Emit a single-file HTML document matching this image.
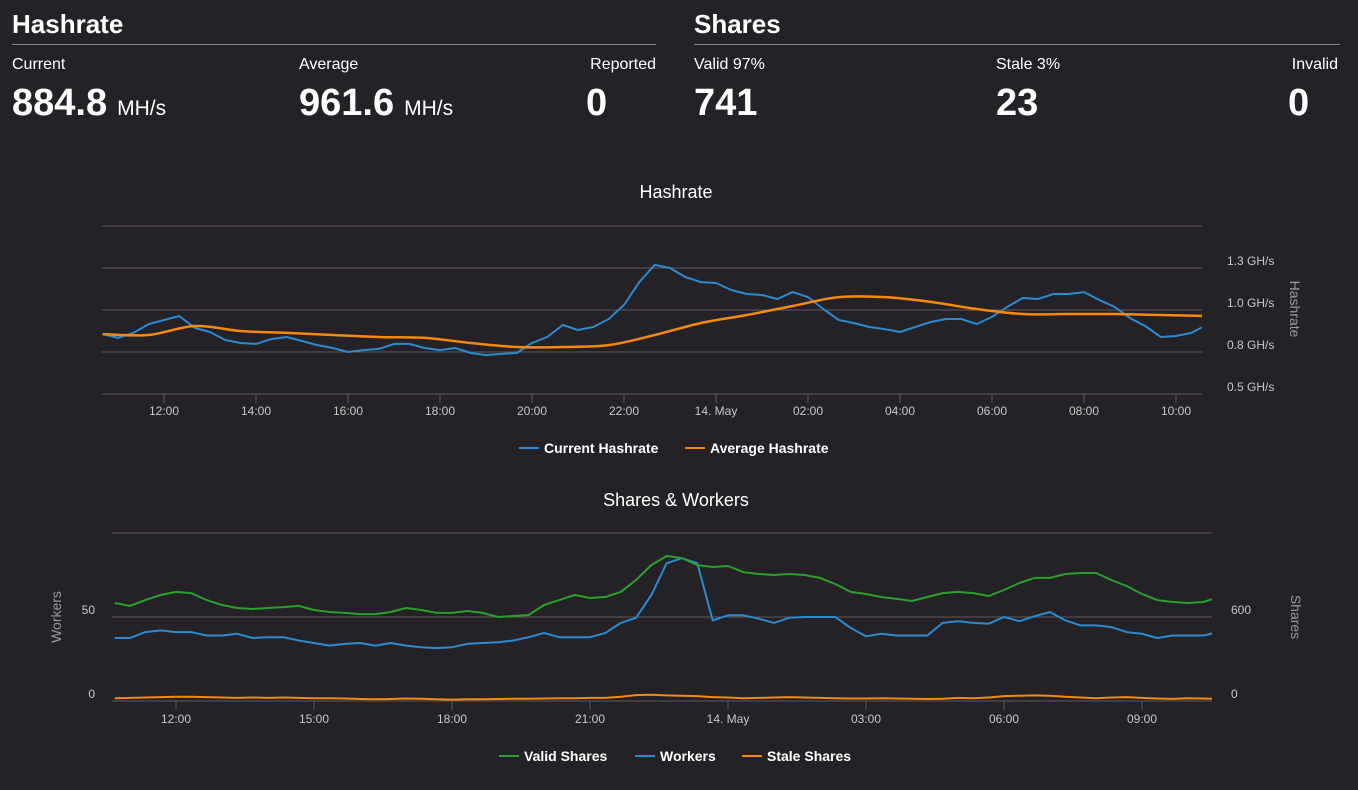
<!DOCTYPE html>
<html><head><meta charset="utf-8">
<style>
html,body{margin:0;padding:0;background:#242226;width:1358px;height:790px;overflow:hidden;font-family:"Liberation Sans",sans-serif;color:#fff}
.hdr{position:absolute;font-weight:bold;font-size:26px;top:9px}
.rule{position:absolute;top:44px;height:1px;background:#8a8589}
.lbl{position:absolute;top:56px;font-size:16px;color:#fff}
.val{position:absolute;top:82px;font-size:38px;font-weight:bold}
.val span{font-size:21px;font-weight:normal;margin-left:10px}
svg{position:absolute;left:0;top:0}
</style></head><body>
<div class="hdr" style="left:12px">Hashrate</div>
<div class="rule" style="left:12px;width:644px"></div>
<div class="hdr" style="left:694px">Shares</div>
<div class="rule" style="left:694px;width:646px"></div>
<div class="lbl" style="left:12px">Current</div>
<div class="val" style="left:12px">884.8<span>MH/s</span></div>
<div class="lbl" style="left:299px">Average</div>
<div class="val" style="left:299px">961.6<span>MH/s</span></div>
<div class="lbl" style="right:702px">Reported</div>
<div class="val" style="left:586px">0</div>
<div class="lbl" style="left:694px">Valid 97%</div>
<div class="val" style="left:694px">741</div>
<div class="lbl" style="left:996px">Stale 3%</div>
<div class="val" style="left:996px">23</div>
<div class="lbl" style="right:20px">Invalid</div>
<div class="val" style="left:1288px">0</div>

<svg id="c" width="1358" height="790" xmlns="http://www.w3.org/2000/svg">
<defs>
<clipPath id="clipTop"><rect x="102" y="220" width="1100" height="180"/></clipPath>
<clipPath id="clipBot"><rect x="112" y="525" width="1100" height="180"/></clipPath>
</defs>
</svg>
<script>
// ---- Hashrate chart data (MH/s, 20-min samples from 10:40) ----
const hashCurrent=[891,867,898,953,978,1003,929,904,854,836,830,860,873,848,823,805,780,792,799,830,830,805,792,805,774,761,768,774,836,873,947,916,935,984,1071,1213,1319,1300,1244,1213,1207,1164,1139,1133,1108,1151,1120,1046,978,959,935,922,904,935,966,984,984,953,997,1059,1114,1108,1139,1139,1151,1102,1059,990,941,873,879,898,947];
// hourly average hashrate
const hashAverage=[891,885,941,910,898,885,873,867,836,811,811,823,885,959,1009,1065,1120,1120,1090,1046,1015,1015,1015,1009,1003];
const hashTickLabels=['12:00','14:00','16:00','18:00','20:00','22:00','14. May','02:00','04:00','06:00','08:00','10:00'];
const hashYTicks=[520,780,1040,1300,1560];
const hashYLabels=['0.5 GH/s','0.8 GH/s','1.0 GH/s','1.3 GH/s',''];
// ---- Shares & Workers data (20-min samples from 10:40) ----
const validShares=[700,679,721,757,779,771,721,686,664,657,664,671,679,650,636,629,621,621,636,664,650,629,629,643,629,600,607,614,686,721,757,736,743,779,864,971,1036,1021,971,957,964,921,907,900,907,900,879,836,779,764,743,729,714,743,771,779,771,750,793,843,879,879,907,914,914,864,821,764,721,707,700,707,743];
const workers=[37.5,37.5,41,42,41,41,39,39,40,37.5,38,38,36,34.5,33,34,34.5,33,34.5,33,32,31.5,32,34,34.5,35,36,38,40.5,38,38,38,40.5,46.5,49.5,63,82,85,82,48,51,51,49,46.5,49.5,50,50,50,43.5,38.5,40,39,39,39,46.5,47.5,46.5,46,50,47.5,50.5,53,48,45,45,44,41,40,37.5,39,39,39,41];
const staleShares=[20,22,25,28,30,30,28,25,22,25,22,25,22,20,20,18,14,12,14,18,16,12,10,12,12,14,16,16,18,20,20,22,22,30,42,45,40,38,35,28,25,20,22,25,28,25,22,20,18,18,20,18,16,14,16,22,20,25,35,38,40,38,30,25,20,25,28,22,18,15,20,18,15];
const shareTickLabels=['12:00','15:00','18:00','21:00','14. May','03:00','06:00','09:00'];

const NS='http://www.w3.org/2000/svg';
const svg=document.getElementById('c');
function mk(tag,attrs,parent){const e=document.createElementNS(NS,tag);for(const k in attrs)e.setAttribute(k,attrs[k]);(parent||svg).appendChild(e);return e;}
function txt(s,attrs){const e=mk('text',attrs);e.textContent=s;return e;}
const GRID='#5e585c', TICK='#c8c8c8';

// ---- top chart scales ----
const tx=t=>164+(t-4/3)*46;            // t = hours since 10:40
const ty=v=>394-(v-520)/260*42;
hashYTicks.forEach((v,i)=>{
  const l=mk('line',{x1:102,x2:1202,y1:ty(v),y2:ty(v),stroke:GRID,'stroke-width':1});
  
  
  if(hashYLabels[i]){const t=txt(hashYLabels[i],{x:1227,y:ty(v)-3,fill:TICK,'font-size':12});
  
  }
});
hashTickLabels.forEach((s,i)=>{
  const x=tx(4/3+2*i);
  mk('line',{x1:x,x2:x,y1:394,y2:403,stroke:GRID});
  const t=txt(s,{x:x,y:415,fill:TICK,'font-size':12,'text-anchor':'middle'});
  
  
});
const gTop=mk('g',{'clip-path':'url(#clipTop)'});
const pCur=mk('path',{d:hashCurrent.map((v,i)=>(i?'L':'M')+tx(i/3).toFixed(1)+','+ty(v).toFixed(1)).join(''),fill:'none',stroke:'#2b8ad0','stroke-width':2,'stroke-linejoin':'round'},gTop);


function smooth(pts){let d='M'+pts[0][0]+','+pts[0][1];for(let i=0;i<pts.length-1;i++){const p0=pts[i-1]||pts[i],p1=pts[i],p2=pts[i+1],p3=pts[i+2]||p2;
 d+='C'+(p1[0]+(p2[0]-p0[0])/6).toFixed(1)+','+(p1[1]+(p2[1]-p0[1])/6).toFixed(1)+' '+(p2[0]-(p3[0]-p1[0])/6).toFixed(1)+','+(p2[1]-(p3[1]-p1[1])/6).toFixed(1)+' '+p2[0].toFixed(1)+','+p2[1].toFixed(1);}return d;}
const pAvg=mk('path',{d:smooth(hashAverage.map((v,i)=>[tx(i),ty(v)])),fill:'none',stroke:'#f7890f','stroke-width':2.5},gTop);


txt('Hashrate',{x:676,y:198,fill:'#fff','font-size':18,'text-anchor':'middle'});
txt('Hashrate',{x:0,y:0,fill:'#9a9a9a','font-size':14,'text-anchor':'middle',transform:'translate(1290,309) rotate(90)'});
mk('line',{x1:519,x2:539,y1:448,y2:448,stroke:'#2b8ad0','stroke-width':2});
const lg1=txt('Current Hashrate',{x:544,y:453,fill:'#fff','font-size':14,'font-weight':'bold'});


mk('line',{x1:685,x2:705,y1:448,y2:448,stroke:'#f7890f','stroke-width':2});
const lg2=txt('Average Hashrate',{x:710,y:453,fill:'#fff','font-size':14,'font-weight':'bold'});



// ---- bottom chart ----
const bx=t=>176+(t-4/3)*46;
const byW=v=>701-v/50*84;
const byS=v=>701-v/600*84;
[50,100].forEach(v=>{const l=mk('line',{x1:112,x2:1212,y1:byW(v),y2:byW(v),stroke:GRID});
  
  });
mk('line',{x1:112,x2:1212,y1:701,y2:701,stroke:GRID});
txt('50',{x:95,y:614,fill:TICK,'font-size':12,'text-anchor':'end'});
txt('0',{x:95,y:698,fill:TICK,'font-size':12,'text-anchor':'end'});
txt('600',{x:1231,y:614,fill:TICK,'font-size':12});
txt('0',{x:1231,y:698,fill:TICK,'font-size':12});
shareTickLabels.forEach((s,i)=>{
  const x=bx(4/3+3*i);
  mk('line',{x1:x,x2:x,y1:701,y2:710,stroke:GRID});
  const t=txt(s,{x:x,y:723,fill:TICK,'font-size':12,'text-anchor':'middle'});
  
  
});
const gBot=mk('g',{'clip-path':'url(#clipBot)'});
function line(arr,fy,color,name){const p=mk('path',{d:arr.map((v,i)=>(i?'L':'M')+bx(i/3).toFixed(1)+','+fy(v).toFixed(1)).join(''),fill:'none',stroke:color,'stroke-width':2,'stroke-linejoin':'round'},gBot);
 
 }
line(staleShares,byS,'#f7890f','stale-shares-line');
line(workers,byW,'#2b8ad0','workers-line');
line(validShares,byS,'#2ca02c','valid-shares-line');
txt('Shares & Workers',{x:676,y:506,fill:'#fff','font-size':18,'text-anchor':'middle'});
txt('Workers',{x:0,y:0,fill:'#9a9a9a','font-size':14,'text-anchor':'middle',transform:'translate(61,617) rotate(-90)'});
txt('Shares',{x:0,y:0,fill:'#9a9a9a','font-size':14,'text-anchor':'middle',transform:'translate(1291,617) rotate(90)'});
[['Valid Shares',499,'#2ca02c','legend-valid-shares'],['Workers',635,'#2b8ad0','legend-workers'],['Stale Shares',742,'#f7890f','legend-stale-shares']].forEach(a=>{
  mk('line',{x1:a[1],x2:a[1]+20,y1:756,y2:756,stroke:a[2],'stroke-width':2});
  const t=txt(a[0],{x:a[1]+25,y:761,fill:'#fff','font-size':14,'font-weight':'bold'});
  
  
});
</script>
</body></html>
